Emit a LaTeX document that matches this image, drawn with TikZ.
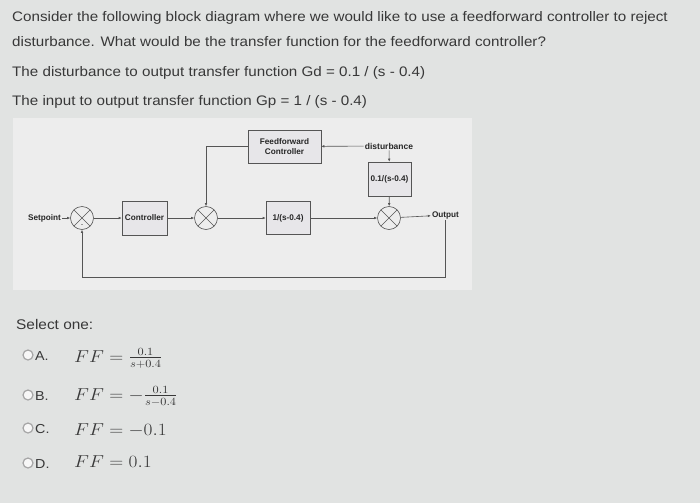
\documentclass[tikz,border=0pt]{standalone}
\usepackage{fontspec}
\setmainfont{Liberation Sans}
\newfontfamily\qfont{Liberation Sans}[FakeStretch=1.1]
\usetikzlibrary{arrows.meta,calc}
\definecolor{bgcol}{HTML}{E1E3E2}
\definecolor{panelcol}{HTML}{EDEDED}
\definecolor{txtcol}{HTML}{383838}
\definecolor{linecol}{HTML}{555555}
\definecolor{boxfill}{HTML}{E7E6E9}
\begin{document}
\begin{tikzpicture}[x=1pt,y=-1pt,
  qtext/.style={anchor=base west, inner sep=0pt, text=txtcol, font=\qfont\fontsize{13.8}{16}\selectfont},
  blk/.style={draw=linecol, line width=0.6pt, fill=boxfill, inner sep=0pt, align=center,
    text=black!85, font=\bfseries\fontsize{8.2}{10}\selectfont},
  lbl/.style={inner sep=1pt, text=black!85, font=\bfseries\fontsize{8.2}{9}\selectfont},
  sumn/.style={circle, draw=linecol, line width=0.6pt, minimum size=23pt, inner sep=0pt,
    path picture={\draw[linecol, line width=0.6pt]
      (path picture bounding box.north east) -- (path picture bounding box.south west)
      (path picture bounding box.north west) -- (path picture bounding box.south east);}},
  sig/.style={draw=linecol, line width=0.6pt, -{Latex[length=3pt,width=2.6pt]}},
  wire/.style={draw=linecol, line width=0.6pt},
  radio/.style={circle, draw=gray!70, line width=1.2pt, fill=white!94!gray, minimum size=10pt, inner sep=0pt},
  optlab/.style={anchor=base west, inner sep=0pt, text=txtcol, font=\qfont\fontsize{13}{15}\selectfont},
  mathlab/.style={anchor=base west, inner sep=0pt, text=txtcol, font=\fontsize{16}{19}\selectfont}]
\useasboundingbox[fill=bgcol] (0,0) rectangle (700,503);
\fill[panelcol] (13,118) rectangle (472,290);

% question text
\node[qtext] (q1) at (12,22) {Consider the following block diagram where we would like to use a feedforward controller to reject};
\node[qtext] (q2) at (12,46.5) {disturbance. What would be the transfer function for the feedforward controller?};
\node[qtext] (q3) at (12,76) {The disturbance to output transfer function Gd = 0.1 / (s - 0.4)};
\node[qtext] (q4) at (12,105) {The input to output transfer function Gp = 1 / (s - 0.4)};

% block diagram
\node[lbl] (sp) at (44.5,218) {Setpoint};
\node[sumn] (s1) at (82,218) {};
\node[inner sep=0pt, font=\fontsize{6}{6}\selectfont] (minus) at (82,226) {-};
\node[blk, minimum width=45pt, minimum height=34pt] (ctrl) at (144.5,218) {Controller};
\node[sumn] (s2) at (206,218) {};
\node[blk, minimum width=44pt, minimum height=33pt] (gp) at (288,218) {1/(s-0.4)};
\node[blk, minimum width=73pt, minimum height=33pt] (ff) at (284.5,146.5) {Feedforward\\Controller};
\node[lbl, font=\bfseries\fontsize{8.5}{9}\selectfont] (dist) at (389,146) {disturbance};
\node[blk, minimum width=43pt, minimum height=34pt] (gd) at (389.5,179) {0.1/(s-0.4)};
\node[sumn] (s3) at (389,218) {};
\node[lbl] (out) at (445.5,215) {Output};
\coordinate (fbr) at (445,277);
\coordinate (fbl) at (82,277);

\draw[sig] (sp) -- (s1);
\draw[sig] (s1) -- (ctrl);
\draw[sig] (ctrl) -- (s2);
\draw[sig] (s2) -- (gp);
\draw[sig] (gp) -- (s3);
\draw[sig] (s3) -- (out);
\draw[sig] (dist) -- (ff);
\draw[sig] (dist) -- (gd);
\draw[sig] (gd) -- (s3);
\draw[sig] (ff.west) -| (s2.north);
\draw[wire] (out.south -| fbr) -- (fbr) -- (fbl);
\draw[sig] (fbl) -- (s1.south);

% options
\node[anchor=base west, inner sep=0pt, text=txtcol, font=\qfont\fontsize{14}{16}\selectfont] (sel) at (16,329) {Select one:};
\node[radio] (ra) at (28,355) {};
\node[optlab] (la) at (35,360) {A.};
\node[mathlab] (ma) at (74,362) {\scalebox{1.12}[1]{$FF=\frac{0.1}{s+0.4}$}};
\node[radio] (rb) at (28,395) {};
\node[optlab] (lb) at (35,400) {B.};
\node[mathlab] (mb) at (74,400) {\scalebox{1.12}[1]{$FF=-\frac{0.1}{s-0.4}$}};
\node[radio] (rc) at (28,428) {};
\node[optlab] (lc) at (35,433) {C.};
\node[mathlab] (mc) at (74,435) {\scalebox{1.12}[1]{$FF=-0.1$}};
\node[radio] (rd) at (28,463) {};
\node[optlab] (ld) at (35,468) {D.};
\node[mathlab] (md) at (74,467) {\scalebox{1.12}[1]{$FF=0.1$}};
\end{tikzpicture}
\end{document}
